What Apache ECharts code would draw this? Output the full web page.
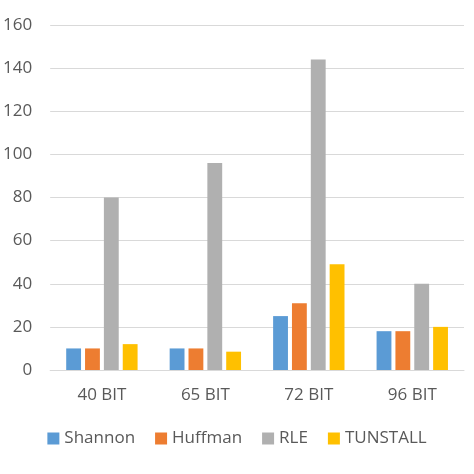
<!DOCTYPE html>
<html>
<head>
<meta charset="utf-8">
<script src="https://cdn.jsdelivr.net/npm/echarts@6/dist/echarts.min.js"></script>
<style>
  html, body { margin: 0; padding: 0; background: #fff; }
  #chart { width: 474px; height: 474px; }
</style>
</head>
<body>
<div id="chart"></div>
<script>
var categories = ['40 BIT', '65 BIT', '72 BIT', '96 BIT'];
var shannon = [10, 10, 25, 18];
var huffman = [10, 10, 31, 18];
var rle = [80, 96, 144, 40];
var tunstall = [12, 8.5, 49, 20];

var font = 'Open Sans';
var textColor = '#595959';

function bar (name, data, color) {
    return {
        name: name,
        type: 'bar',
        data: data,
        barGap: '27%',
        barCategoryGap: '31%',
        itemStyle: { color: color }
    };
}

var chart = echarts.init(document.getElementById('chart'));
chart.setOption({
    animation: false,
    grid: { left: 50, right: 10, top: 25, bottom: 104, containLabel: false },
    legend: {
        bottom: 22,
        left: 'center',
        icon: 'rect',
        itemWidth: 12,
        itemHeight: 12,
        itemGap: 20,
        textStyle: { color: textColor, fontSize: 17, fontFamily: font }
    },
    xAxis: {
        type: 'category',
        data: categories,
        axisTick: { show: false },
        axisLine: { lineStyle: { color: '#d9d9d9' } },
        axisLabel: { color: textColor, fontSize: 17, fontFamily: font, margin: 17 }
    },
    yAxis: {
        type: 'value',
        min: 0,
        max: 160,
        interval: 20,
        axisLine: { show: false },
        axisTick: { show: false },
        splitLine: { lineStyle: { color: '#d9d9d9' } },
        axisLabel: { color: textColor, fontSize: 17, fontFamily: font, margin: 18 }
    },
    series: [
        bar('Shannon', shannon, '#5b9bd5'),
        bar('Huffman', huffman, '#ed7d31'),
        bar('RLE', rle, '#b0b0b0'),
        bar('TUNSTALL', tunstall, '#ffc000')
    ]
});
</script>
</body>
</html>
